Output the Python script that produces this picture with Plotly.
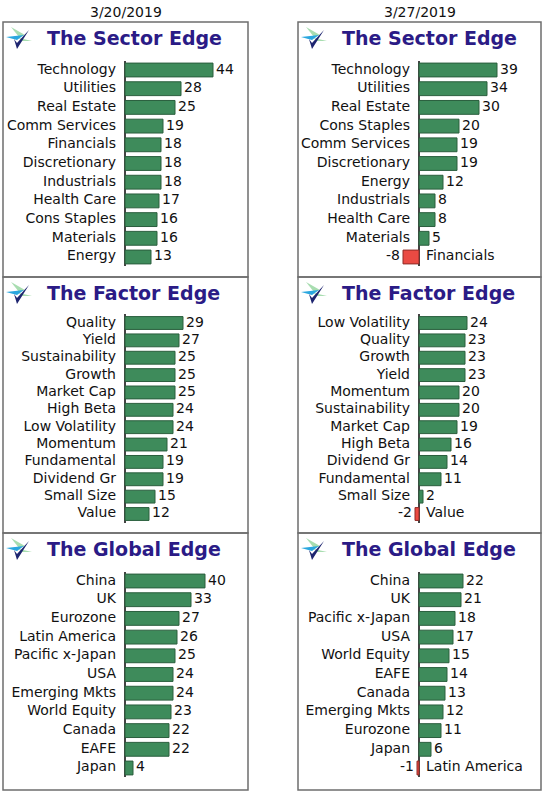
import plotly.graph_objects as go

# data, top to bottom in each panel
dates = ["3/20/2019", "3/27/2019"]
titles = ["The Sector Edge", "The Factor Edge", "The Global Edge"]

sector_0320_names = ["Technology", "Utilities", "Real Estate", "Comm Services", "Financials",
                     "Discretionary", "Industrials", "Health Care", "Cons Staples", "Materials", "Energy"]
sector_0320_values = [44, 28, 25, 19, 18, 18, 18, 17, 16, 16, 13]

sector_0327_names = ["Technology", "Utilities", "Real Estate", "Cons Staples", "Comm Services",
                     "Discretionary", "Energy", "Industrials", "Health Care", "Materials", "Financials"]
sector_0327_values = [39, 34, 30, 20, 19, 19, 12, 8, 8, 5, -8]

factor_0320_names = ["Quality", "Yield", "Sustainability", "Growth", "Market Cap", "High Beta",
                     "Low Volatility", "Momentum", "Fundamental", "Dividend Gr", "Small Size", "Value"]
factor_0320_values = [29, 27, 25, 25, 25, 24, 24, 21, 19, 19, 15, 12]

factor_0327_names = ["Low Volatility", "Quality", "Growth", "Yield", "Momentum", "Sustainability",
                     "Market Cap", "High Beta", "Dividend Gr", "Fundamental", "Small Size", "Value"]
factor_0327_values = [24, 23, 23, 23, 20, 20, 19, 16, 14, 11, 2, -2]

global_0320_names = ["China", "UK", "Eurozone", "Latin America", "Pacific x-Japan", "USA",
                     "Emerging Mkts", "World Equity", "Canada", "EAFE", "Japan"]
global_0320_values = [40, 33, 27, 26, 25, 24, 24, 23, 22, 22, 4]

global_0327_names = ["China", "UK", "Pacific x-Japan", "USA", "World Equity", "EAFE", "Canada",
                     "Emerging Mkts", "Eurozone", "Japan", "Latin America"]
global_0327_values = [22, 21, 18, 17, 15, 14, 13, 12, 11, 6, -1]

W, H = 546, 794
FONT = "DejaVu Sans"
TITLE_COLOR = "#2B1B86"
GREEN, GREEN_LINE = "#3E8B5B", "#2A5E3D"
RED, RED_LINE = "#EA4A43", "#8E2B26"
LABEL_SIZE = 14


def px(x):
    return x / W


def py(y):
    return 1 - y / H


# panel layout in pixels: (box top, box bottom, first row centre, last row centre)
rows = [(22, 277, 70, 257), (277, 533, 323, 514), (533, 790, 581, 768)]
cols = [(3, 248, 125), (298, 541, 419)]  # box left, box right, zero line
panels = [
    [(sector_0320_names, sector_0320_values), (sector_0327_names, sector_0327_values)],
    [(factor_0320_names, factor_0320_values), (factor_0327_names, factor_0327_values)],
    [(global_0320_names, global_0320_values), (global_0327_names, global_0327_values)],
]
XR = 57.5  # 2 px per unit over a 230 px wide domain

fig = go.Figure()
shapes, annotations = [], []
layout_axes = {}


def icon(x0, y0):
    # small plane logo, drawn in pixel offsets from the top-left corner
    parts = [
        ([(5, 0), (19, 8), (13, 10)], "#A8DDB0"),
        ([(13, 11), (26, 14), (15, 14)], "#A8DDB0"),
        ([(0, 10), (18, 8), (11, 13)], "#2AA7DF"),
        ([(8, 12), (11, 22), (23, 3), (11, 16)], "#1E2570"),
    ]
    out = []
    for pts, col in parts:
        path = "M " + " L ".join(f"{px(x0 + a):.5f},{py(y0 + b):.5f}" for a, b in pts) + " Z"
        out.append(dict(type="path", xref="paper", yref="paper", path=path,
                        fillcolor=col, line=dict(width=0)))
    return out


n = 0
for r, (top, bottom, first, last) in enumerate(rows):
    for c, (left, right, zero) in enumerate(cols):
        n += 1
        names, values = panels[r][c]
        k = len(names)
        step = (last - first) / (k - 1)
        xs = "x" if n == 1 else f"x{n}"
        ys = "y" if n == 1 else f"y{n}"

        fig.add_trace(go.Bar(
            x=values, y=names, orientation="h", xaxis=xs, yaxis=ys,
            marker=dict(color=[GREEN if v >= 0 else RED for v in values],
                        line=dict(color=[GREEN_LINE if v >= 0 else RED_LINE for v in values], width=1)),
            width=0.74, showlegend=False, hoverinfo="skip",
        ))
        # category labels sit next to the zero line, on the side away from the bar
        fig.add_trace(go.Scatter(
            x=[-4.5 if v >= 0 else 3.5 for v in values], y=names, mode="text", text=names,
            textposition=["middle left" if v >= 0 else "middle right" for v in values],
            textfont=dict(family=FONT, size=LABEL_SIZE, color="#111"),
            xaxis=xs, yaxis=ys, showlegend=False, hoverinfo="skip", cliponaxis=False,
        ))
        fig.add_trace(go.Scatter(
            x=[v + 1.5 if v >= 0 else v - 1.5 for v in values], y=names, mode="text",
            text=[str(v) for v in values],
            textposition=["middle right" if v >= 0 else "middle left" for v in values],
            textfont=dict(family=FONT, size=LABEL_SIZE, color="#111"),
            xaxis=xs, yaxis=ys, showlegend=False, hoverinfo="skip", cliponaxis=False,
        ))

        d0, d1 = zero - 115, zero + 115
        layout_axes["xaxis" if n == 1 else f"xaxis{n}"] = dict(
            domain=[px(d0), px(d1)], range=[-XR, XR], anchor=ys, showgrid=False,
            showticklabels=False, zeroline=True, zerolinecolor="#444", zerolinewidth=1.5,
        )
        layout_axes["yaxis" if n == 1 else f"yaxis{n}"] = dict(
            domain=[py(last + step / 2), py(first - step / 2)], anchor=xs,
            range=[k - 0.5, -0.5], type="category", categoryorder="array", categoryarray=names,
            showgrid=False, showticklabels=False, zeroline=False,
        )

        shapes.append(dict(type="rect", xref="paper", yref="paper",
                           x0=px(left), x1=px(right), y0=py(bottom), y1=py(top),
                           line=dict(color="#6E6E6E", width=1.5), fillcolor="rgba(0,0,0,0)"))
        shapes.extend(icon(left + 3, top + 5))
        annotations.append(dict(xref="paper", yref="paper", x=px(left + 42), y=py(top + 16),
                                text=f"<b>{titles[r]}</b>", showarrow=False, xanchor="left",
                                yanchor="middle", font=dict(family=FONT, size=19, color=TITLE_COLOR)))

for c, (left, right, zero) in enumerate(cols):
    annotations.append(dict(xref="paper", yref="paper", x=px((left + right) / 2), y=py(12),
                            text=dates[c], showarrow=False, xanchor="center", yanchor="middle",
                            font=dict(family=FONT, size=14, color="#111")))

fig.update_layout(
    width=W, height=H, margin=dict(l=0, r=0, t=0, b=0),
    paper_bgcolor="white", plot_bgcolor="white",
    shapes=shapes, annotations=annotations, bargap=0.26, **layout_axes,
)

fig.write_html("out.html", config={"displayModeBar": False},
               post_script="document.body.style.margin = '0';")
